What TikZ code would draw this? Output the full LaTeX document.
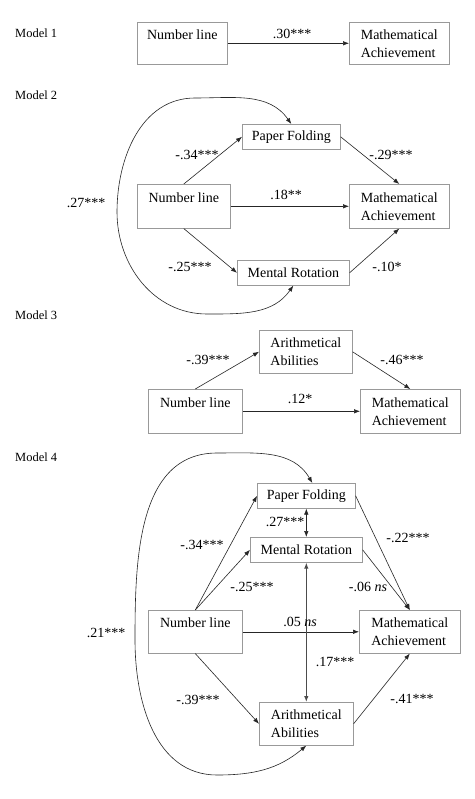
\documentclass[tikz,border=0pt]{standalone}
\usepackage{fontspec}
\setmainfont{Liberation Serif}
\usetikzlibrary{arrows.meta,calc}
\begin{document}
\begin{tikzpicture}[x=1pt,y=1pt,
  box/.style={draw=black!40, line width=0.6pt, inner sep=0pt, anchor=north west, align=left, font=\fontsize{14}{18}\selectfont},
  lbl/.style={font=\fontsize{14}{18}\selectfont, inner sep=0pt},
  mdl/.style={font=\fontsize{12.5}{15}\selectfont, anchor=west, inner sep=0pt},
  arr/.style={-{Latex[length=6pt,width=4.5pt]}, black!85, line width=0.6pt},
  darr/.style={{Latex[length=6pt,width=4.5pt]}-{Latex[length=6pt,width=4.5pt]}, black!85, line width=0.6pt},
]
\useasboundingbox (0,0) rectangle (474,-799);
\fill[white] (0,0) rectangle (474,-799);

% ---------------- Model 1
\node[mdl] (m1) at (15,-33) {Model 1};
\node[box, minimum width=90, minimum height=42] (nl1) at (137,-22) {Number line\\\mbox{}};
\node[box, minimum width=100, minimum height=42] (ma1) at (349,-22) {Mathematical\\Achievement};
\draw[arr] (nl1.east) -- (ma1.west);
\node[lbl] (l1a) at (292,-34) {.30***};

% ---------------- Model 2
\node[mdl] (m2) at (15,-95) {Model 2};
\node[box, minimum width=98, minimum height=25] (pf2) at (242,-124) {Paper Folding};
\node[box, minimum width=93, minimum height=44] (nl2) at (137,-184) {Number line\\\mbox{}};
\node[box, minimum width=100, minimum height=44] (ma2) at (349,-184) {Mathematical\\Achievement};
\node[box, minimum width=112, minimum height=25] (mr2) at (237,-260) {Mental Rotation};
\draw[arr] (nl2.north) -- (pf2.west);
\draw[arr] (pf2.east) -- (ma2.north);
\draw[arr] (nl2.east) -- (ma2.west);
\draw[arr] (nl2.south) -- (mr2.west);
\draw[arr] (mr2.east) -- (ma2.south);
\draw[darr] (pf2.north) to[out=125,in=0] (195,-98) to[out=180,in=90] (117,-212)
   to[out=-90,in=180] (207,-314) to[out=0,in=-125] (mr2.south);
\node[lbl] (l2a) at (197,-155) {-.34***};
\node[lbl] (l2b) at (391,-155) {-.29***};
\node[lbl] (l2c) at (286,-195) {.18**};
\node[lbl] (l2d) at (190,-267) {-.25***};
\node[lbl] (l2e) at (387,-267) {-.10*};
\node[lbl] (l2f) at (86,-203) {.27***};

% ---------------- Model 3
\node[mdl] (m3) at (15,-315) {Model 3};
\node[box, minimum width=93, minimum height=43] (aa3) at (259,-330) {Arithmetical\\Abilities};
\node[box, minimum width=94, minimum height=44] (nl3) at (148,-389) {Number line\\\mbox{}};
\node[box, minimum width=100, minimum height=44] (ma3) at (360,-389) {Mathematical\\Achievement};
\draw[arr] (nl3.north) -- (aa3.west);
\draw[arr] (aa3.east) -- (ma3.north);
\draw[arr] (nl3.east) -- (ma3.west);
\node[lbl] (l3a) at (208,-360) {-.39***};
\node[lbl] (l3b) at (402,-360) {-.46***};
\node[lbl] (l3c) at (300,-399) {.12*};

% ---------------- Model 4
\node[mdl] (m4) at (15,-457) {Model 4};
\node[box, minimum width=98, minimum height=25] (pf4) at (257,-483) {Paper Folding};
\node[box, minimum width=112, minimum height=25] (mr4) at (250,-537) {Mental Rotation};
\node[box, minimum width=94, minimum height=43] (nl4) at (148,-610) {Number line\\\mbox{}};
\node[box, minimum width=101, minimum height=43] (ma4) at (359,-610) {Mathematical\\Achievement};
\node[box, minimum width=94, minimum height=43] (aa4) at (259,-702) {Arithmetical\\Abilities};
\coordinate (pf4top) at ($(pf4.north)+(6,0)$);
\draw[arr] (nl4.north) -- (pf4.west);
\draw[arr] (nl4.north) -- (mr4.west);
\draw[arr] (pf4.east) -- (ma4.north);
\draw[arr] (mr4.east) -- (ma4.north);
\draw[arr] (nl4.east) -- (ma4.west);
\draw[arr] (nl4.south) -- (aa4.west);
\draw[arr] (aa4.east) -- (ma4.south);
\draw[darr] (pf4.south) -- (mr4.north);
\draw[darr, black!70, line width=1.1pt] (mr4.south) -- (aa4.north);
\draw[darr] (pf4top) to[out=120,in=0] (217,-453) to[out=180,in=90] (135,-640)
   to[out=-90,in=180] (217,-775) to[out=0,in=-140] (aa4.south);
\node[lbl] (l4a) at (202,-545) {-.34***};
\node[lbl] (l4b) at (252,-587) {-.25***};
\node[lbl] (l4c) at (408,-538) {-.22***};
\node[lbl] (l4d) at (368,-587) {-.06 \textit{ns}};
\node[lbl] (l4e) at (285,-522) {.27***};
\node[lbl] (l4f) at (335,-662) {.17***};
\node[lbl] (l4g) at (300,-622) {.05 \textit{ns}};
\node[lbl] (l4h) at (198,-700) {-.39***};
\node[lbl] (l4i) at (412,-699) {-.41***};
\node[lbl] (l4j) at (106,-633) {.21***};
\end{tikzpicture}
\end{document}
